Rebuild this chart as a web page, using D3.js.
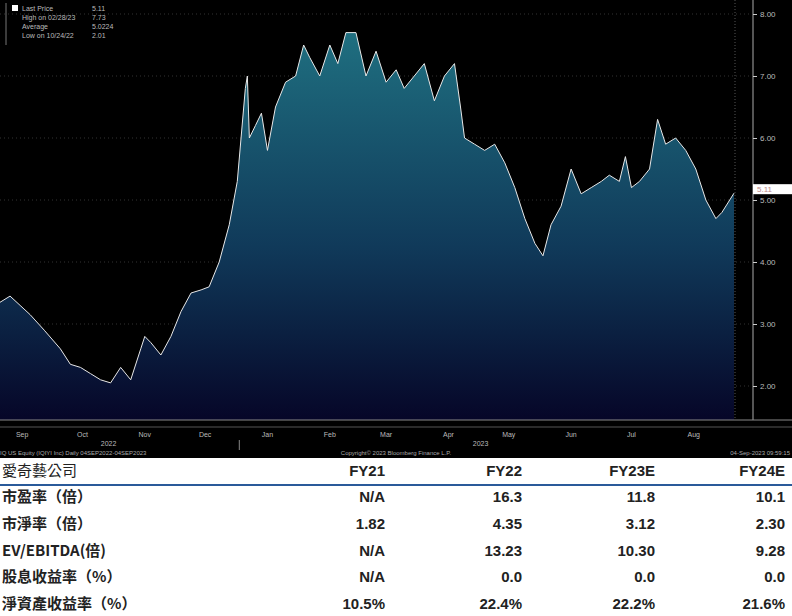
<!DOCTYPE html>
<html><head><meta charset="utf-8">
<script src="https://cdn.jsdelivr.net/npm/d3@7"></script>
<style>body{margin:0;background:#fff}svg{display:block}</style>
</head><body><svg id="c" width="792" height="616"></svg>
<script>
// Days since 2022-09-04 and closing prices (USD)
const dayOffsets = [0,5,10,15,22,30,35,40,45,50,55,60,65,70,72,75,80,85,90,95,100,104,109,114,118,122,123,124,127,130,133,137,142,147,151,154,159,164,168,172,177,182,187,192,197,201,206,211,216,221,226,229,231,236,241,246,251,256,261,266,270,274,279,284,289,294,299,303,308,311,314,318,323,327,331,336,341,346,351,356,359,365];
const prices = [3.35,3.45,3.3,3.15,2.9,2.6,2.35,2.3,2.2,2.1,2.05,2.3,2.1,2.6,2.8,2.7,2.5,2.8,3.2,3.5,3.55,3.6,4.0,4.6,5.3,6.8,7.0,6.0,6.2,6.4,5.8,6.5,6.9,7.0,7.5,7.3,7.0,7.5,7.2,7.7,7.7,7.0,7.4,6.9,7.1,6.8,7.0,7.2,6.6,7.0,7.2,6.5,6.0,5.9,5.8,5.9,5.6,5.2,4.7,4.3,4.1,4.6,4.9,5.5,5.1,5.2,5.3,5.4,5.3,5.7,5.2,5.3,5.5,6.3,5.9,6.0,5.8,5.5,5.0,4.7,4.8,5.11];
const priceTicks = [2,3,4,5,6,7,8];
const monthLabels = ["Sep","Oct","Nov","Dec","Jan","Feb","Mar","Apr","May","Jun","Jul","Aug"];
const legendLabels = ["Last Price","High on 02/28/23","Average","Low on 10/24/22"];
const legendValues = ["5.11","7.73","5.0224","2.01"];
const tableHeader = ["愛奇藝公司","FY21","FY22","FY23E","FY24E"];
const rowLabels = ["市盈率（倍）","市淨率（倍）","EV/EBITDA(倍)","股息收益率（%）","淨資產收益率（%）"];
const fy21 = ["N/A","1.82","N/A","N/A","10.5%"];
const fy22 = ["16.3","4.35","13.23","0.0","22.4%"];
const fy23 = ["11.8","3.12","10.30","0.0","22.2%"];
const fy24 = ["10.1","2.30","9.28","0.0","21.6%"];

const svg = d3.select("#c");
const start = new Date(2022,8,4);
const data = dayOffsets.map((d,i)=>({date:d3.timeDay.offset(start,d),v:prices[i]}));
const x = d3.scaleTime().domain([start,new Date(2023,8,4)]).range([0,734]);
const y = d3.scaleLinear().domain([2,8]).range([386,14]);

svg.append("rect").attr("width",792).attr("height",458).attr("fill","#000");
const defs=svg.append("defs");
const g=defs.append("linearGradient").attr("id","gr").attr("x1",0).attr("y1",0).attr("x2",0).attr("y2",1);
g.append("stop").attr("offset","0%").attr("stop-color","#1f6f80");
g.append("stop").attr("offset","55%").attr("stop-color","#103a5a");
g.append("stop").attr("offset","100%").attr("stop-color","#060628");
svg.append("g").selectAll("line").data(priceTicks).join("line")
 .attr("x1",0).attr("x2",752).attr("y1",d=>y(d)).attr("y2",d=>y(d))
 .attr("stroke","#333").attr("stroke-dasharray","1,3");
svg.append("path").datum(data).attr("fill","url(#gr)")
 .attr("d",d3.area().x(d=>x(d.date)).y0(420).y1(d=>y(d.v)));
svg.append("path").datum(data).attr("fill","none").attr("stroke","#e8e8e8").attr("stroke-width",1)
 .attr("d",d3.line().x(d=>x(d.date)).y(d=>y(d.v)));
svg.append("line").attr("x1",735).attr("x2",735).attr("y1",0).attr("y2",420).attr("stroke","#555").attr("stroke-dasharray","1,2");
const ax=svg.append("g").attr("transform","translate(753,0)").call(d3.axisRight(y).tickValues(priceTicks).tickFormat(d3.format(".2f")).tickSize(4));
ax.select(".domain").attr("stroke","#aaa").attr("d","M0,0V420");
ax.selectAll("line").attr("stroke","#ccc");
ax.selectAll("text").attr("fill","#bbb").style("font","8px 'Liberation Sans Narrow',sans-serif");
svg.append("rect").attr("x",753).attr("y",y(5.11)-9).attr("width",39).attr("height",10).attr("fill","#fff");
svg.append("text").attr("x",757).attr("y",y(5.11)-1).text("5.11").attr("fill","#b88").style("font","8px sans-serif");
svg.append("line").attr("x1",0).attr("x2",792).attr("y1",420).attr("y2",420).attr("stroke","#888");
svg.append("line").attr("x1",0).attr("x2",792).attr("y1",427).attr("y2",427).attr("stroke","#555");
const months=d3.timeMonth.range(new Date(2022,8,1),new Date(2023,8,1));
svg.append("g").selectAll("text").data(months).join("text")
 .attr("x",d=>x(d3.timeDay.offset(d,14))).attr("y",437).attr("text-anchor","middle")
 .attr("fill","#bbb").style("font","7px sans-serif").text((d,i)=>monthLabels[i]);
svg.append("text").attr("x",x(new Date(2022,9,28))).attr("y",446).attr("text-anchor","middle").attr("fill","#bbb").style("font","7px sans-serif").text("2022");
svg.append("text").attr("x",x(new Date(2023,4,1))).attr("y",446).attr("text-anchor","middle").attr("fill","#bbb").style("font","7px sans-serif").text("2023");
svg.append("line").attr("x1",x(new Date(2023,0,1))).attr("x2",x(new Date(2023,0,1))).attr("y1",440).attr("y2",450).attr("stroke","#888");
const foot=[["IQ US Equity (IQIYI Inc)  Daily 04SEP2022-04SEP2023",0,"start"],["Copyright© 2023 Bloomberg Finance L.P.",396,"middle"],["04-Sep-2023 09:59:15",790,"end"]];
svg.append("g").selectAll("text").data(foot).join("text").attr("x",d=>d[1]).attr("y",455).attr("text-anchor",d=>d[2])
 .attr("fill","#aaa").style("font","6px sans-serif").text(d=>d[0]);
const lg=svg.append("g").attr("transform","translate(4,3)");
lg.append("line").attr("x1",2).attr("x2",2).attr("y1",0).attr("y2",42).attr("stroke","#777");
lg.append("rect").attr("x",8).attr("y",2).attr("width",6).attr("height",6).attr("fill","#fff");
lg.selectAll(".l").data(legendLabels).join("text").attr("x",18).attr("y",(d,i)=>8+i*9).attr("fill","#bbb").style("font","7px sans-serif").text(d=>d);
lg.selectAll(".v").data(legendValues).join("text").attr("x",88).attr("y",(d,i)=>8+i*9).attr("fill","#bbb").style("font","7px sans-serif").text(d=>d);
const rowY=[470,496,523,550,576,603];
const colX=[385,522,655,785];
const font="bold 15px 'Noto Sans CJK TC',sans-serif";
svg.append("text").attr("x",2).attr("y",rowY[0]+6).text(tableHeader[0]).style("font","15px 'Noto Sans CJK TC',sans-serif").attr("fill","#222");
tableHeader.slice(1).forEach((h,i)=>svg.append("text").attr("x",colX[i]).attr("y",rowY[0]+6).attr("text-anchor","end").text(h).style("font","bold 15px 'Liberation Sans',sans-serif").attr("fill","#222"));
svg.append("line").attr("x1",0).attr("x2",792).attr("y1",485).attr("y2",485).attr("stroke","#2a5a9a").attr("stroke-width",2);
const cols=[fy21,fy22,fy23,fy24];
rowLabels.forEach((r,i)=>{
 const yy=rowY[i+1]+6;
 svg.append("text").attr("x",2).attr("y",yy).text(r).style("font",font).attr("fill","#222");
 cols.forEach((c,j)=>svg.append("text").attr("x",colX[j]).attr("y",yy).attr("text-anchor","end").text(c[i]).style("font","bold 15px 'Liberation Sans',sans-serif").attr("fill","#222"));
});
</script></body></html>
